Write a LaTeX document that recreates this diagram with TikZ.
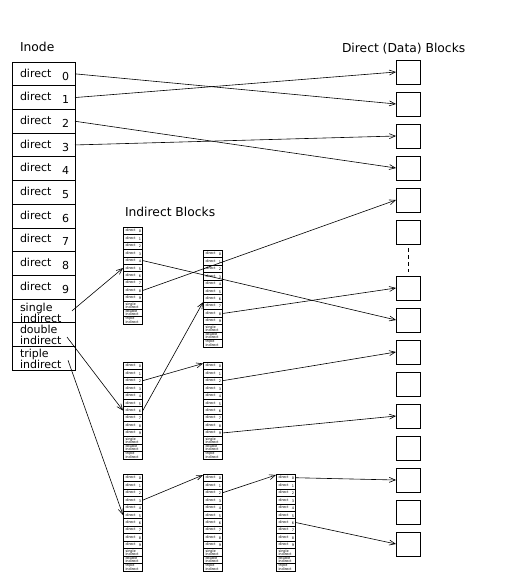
\documentclass[tikz,border=0pt]{standalone}
\usepackage{fontspec}
\setmainfont{DejaVu Sans}
\usetikzlibrary{arrows.meta}
\tikzset{
 cell/.style={draw, line width=0.7pt, rectangle, minimum width=63pt, minimum height=23.7pt, inner sep=0pt, outer sep=0pt, anchor=north west},
 dtxt/.style={inner sep=0pt, outer sep=0pt, anchor=base west, font=\fontsize{11}{12}\selectfont},
 lbl/.style={inner sep=0pt, outer sep=0pt, anchor=base west, font=\fontsize{12.3}{14}\selectfont},
 dblock/.style={draw, line width=0.7pt, rectangle, minimum size=24pt, inner sep=0pt, outer sep=0pt, anchor=north west},
 ptr/.style={line width=0.6pt, -{Straight Barb[length=6pt,width=5pt]}},
}
\newcommand{\iblock}[4]{%
 \begin{scope}[shift={(#2,#3)}, scale=#4, transform shape]
  \foreach \k in {0,...,9}{
    \node[cell] (#1-\k) at (0,{\k*23.7}) {};
    \node[dtxt] (#1-\k-w) at (8,{\k*23.7+15}) {direct};
    \node[dtxt] (#1-\k-d) at (50,{\k*23.7+18}) {\k};
  }
  \node[cell] (#1-10) at (0,237) {};
  \node[dtxt] (#1-10-a) at (8,{237+12}) {single};
  \node[dtxt] (#1-10-b) at (8,{237+23}) {indirect};
  \node[cell] (#1-11) at (0,260.7) {};
  \node[dtxt] (#1-11-a) at (8,{260.7+10.8}) {double};
  \node[dtxt] (#1-11-b) at (8,{260.7+21.6}) {indirect};
  \node[cell] (#1-12) at (0,284.4) {};
  \node[dtxt] (#1-12-a) at (8,{284.4+10.8}) {triple};
  \node[dtxt] (#1-12-b) at (8,{284.4+21.8}) {indirect};
 \end{scope}}
\begin{document}
\begin{tikzpicture}[x=1pt,y=-1pt]
\useasboundingbox (0,0) rectangle (511,584);
% labels
\node[lbl] (inodelbl) at (20,51.7) {Inode};
\node[lbl] (indlbl) at (125,216) {Indirect Blocks};
\node[lbl] (dirlbl) at (342,52) {Direct (Data) Blocks};
% inode and indirect blocks
\iblock{I}{12}{62}{1}
\iblock{A}{123}{227}{0.315}
\iblock{B}{203}{250}{0.315}
\iblock{C}{123}{362}{0.315}
\iblock{D}{203}{362}{0.315}
\iblock{E}{123}{474}{0.315}
\iblock{F}{203}{474}{0.315}
\iblock{G}{276}{474}{0.315}
% data blocks
\foreach \i in {0,...,5} \node[dblock] (db\i) at (396,{60+32*\i}) {};
\foreach \i in {6,...,14} \node[dblock] (db\i) at (396,{276+32*(\i-6)}) {};
\draw[line width=0.7pt, dash pattern=on 4pt off 3pt] ([yshift=-4pt]db5.south) -- ([yshift=4pt]db6.north);
% pointers
\draw[ptr] (I-0.east) -- (db1.west);
\draw[ptr] (I-1.east) -- (db0.west);
\draw[ptr] (I-2.east) -- (db3.west);
\draw[ptr] (I-3.east) -- (db2.west);
\draw[ptr] ([xshift=-3pt]I-10.east) -- (A-5.west);
\draw[ptr] ([xshift=-8pt,yshift=-2.5pt]I-11.east) -- (C-6.west);
\draw[ptr] ([xshift=-7pt,yshift=-2pt]I-12.east) -- (E-5.west);
\draw[ptr] (A-4.east) -- (db7.west);
\draw[ptr] (A-8.east) -- (db4.west);
\draw[ptr] (B-8.east) -- (db6.west);
\draw[ptr] (C-6.east) -- (B-6.south west);
\draw[ptr] (C-2.east) -- ([yshift=-1.5pt]D-0.north west);
\draw[ptr] (D-2.east) -- (db8.west);
\draw[ptr] (D-9.east) -- (db10.west);
\draw[ptr] (E-3.east) -- ([yshift=-1pt]F-0.north west);
\draw[ptr] (F-2.east) -- ([yshift=-1pt]G-0.north west);
\draw[ptr] (G-0.east) -- (db12.west);
\draw[ptr] (G-6.east) -- (db14.west);
\end{tikzpicture}
\end{document}
